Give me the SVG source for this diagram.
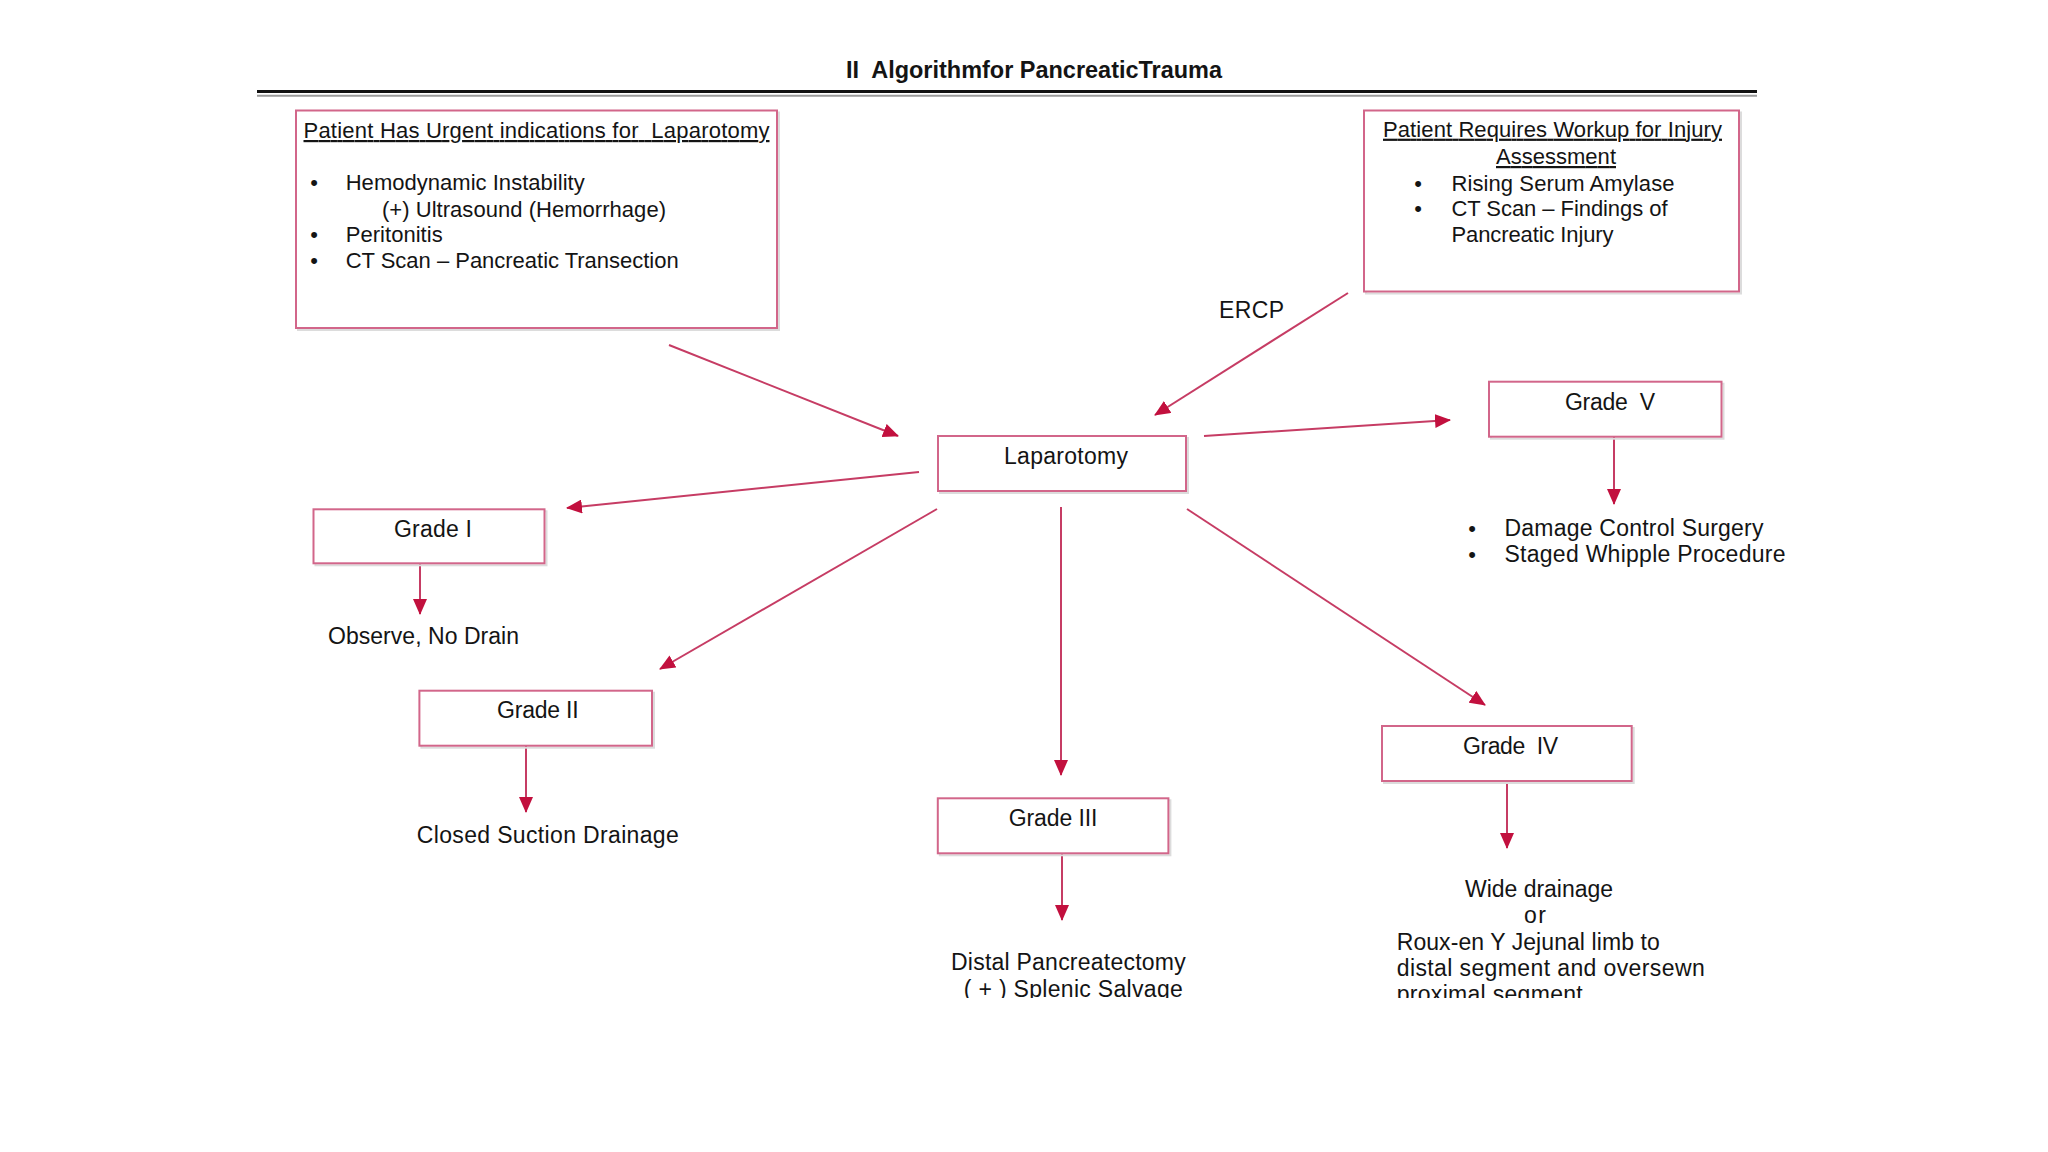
<svg xmlns="http://www.w3.org/2000/svg" width="2048" height="1152" viewBox="0 0 2048 1152">
<style>
text{font-family:"Liberation Sans",Arial,sans-serif;font-size:22px;fill:#141414}
.t{font-size:23px}
.title{font-size:23px;font-weight:bold}
.box{fill:#fff;stroke:#d2668a;stroke-width:2}
.sh{fill:none;stroke:#dcdcdc;stroke-width:2}
.con{stroke:#c63c64;stroke-width:2;fill:none;marker-end:url(#ah)}
.u{text-decoration:underline}
.pre{white-space:pre}
</style>
<defs>
<marker id="ah" markerUnits="userSpaceOnUse" markerWidth="16" markerHeight="14" refX="15" refY="7" orient="auto" viewBox="0 0 16 14">
<path d="M0,0 L16,7 L0,14 z" fill="#c2103e"/>
</marker>
<clipPath id="cut"><rect x="0" y="0" width="2048" height="998"/></clipPath>
</defs>
<rect width="2048" height="1152" fill="#fff"/>

<g id="header">
<text class="title pre" xml:space="preserve" x="846" y="78" textLength="376" lengthAdjust="spacingAndGlyphs">II  Algorithmfor PancreaticTrauma</text>
<line x1="257" y1="91.5" x2="1757" y2="91.5" stroke="#111" stroke-width="3"/>
<line x1="257" y1="95.8" x2="1757" y2="95.8" stroke="#9a9a9a" stroke-width="2"/>
</g>

<g id="connectors">
<line class="con" x1="669" y1="345" x2="898" y2="436"/>
<line class="con" x1="1348" y1="293" x2="1155" y2="415"/>
<line class="con" x1="1204" y1="436" x2="1450" y2="420"/>
<line class="con" x1="919" y1="472" x2="567" y2="508"/>
<line class="con" x1="937" y1="509" x2="660" y2="669"/>
<line class="con" x1="1061" y1="507" x2="1061" y2="775"/>
<line class="con" x1="1187" y1="509" x2="1485" y2="705"/>
<line class="con" x1="1614" y1="437" x2="1614" y2="504"/>
<line class="con" x1="420" y1="563" x2="420" y2="614"/>
<line class="con" x1="526" y1="746" x2="526" y2="812"/>
<line class="con" x1="1062" y1="853" x2="1062" y2="920"/>
<line class="con" x1="1507" y1="781" x2="1507" y2="848"/>
<text class="t" x="1219" y="318" textLength="65">ERCP</text>
</g>

<g id="urgent">
<rect class="sh" x="298" y="112.5" width="481" height="217.5"/>
<rect class="box" x="296" y="110.5" width="481" height="217.5"/>
<text class="u pre" xml:space="preserve" x="303.5" y="138" textLength="466">Patient Has Urgent indications for  Laparotomy</text>
<text x="314" y="190" text-anchor="middle">•</text>
<text x="345.7" y="190" textLength="239">Hemodynamic Instability</text>
<text x="382" y="216.7" textLength="284">(+) Ultrasound (Hemorrhage)</text>
<text x="314" y="241.7" text-anchor="middle">•</text>
<text x="345.7" y="241.7" textLength="97">Peritonitis</text>
<text x="314" y="268" text-anchor="middle">•</text>
<text x="345.7" y="268" textLength="333">CT Scan – Pancreatic Transection</text>
</g>

<g id="workup">
<rect class="sh" x="1366" y="112.5" width="375" height="181"/>
<rect class="box" x="1364" y="110.5" width="375" height="181"/>
<text class="u" x="1383" y="136.7" textLength="339">Patient Requires Workup for Injury</text>
<text class="u" x="1496" y="164" textLength="120">Assessment</text>
<text x="1418" y="190.7" text-anchor="middle">•</text>
<text x="1451.5" y="190.7" textLength="223">Rising Serum Amylase</text>
<text x="1418" y="215.7" text-anchor="middle">•</text>
<text x="1451.5" y="215.7" textLength="216">CT Scan – Findings of</text>
<text x="1451.5" y="241.7" textLength="162">Pancreatic Injury</text>
</g>

<g id="laparotomy">
<rect class="sh" x="940" y="438" width="248" height="55"/>
<rect class="box" x="938" y="436" width="248" height="55"/>
<text class="t" x="1004" y="464" textLength="124">Laparotomy</text>
</g>

<g id="grade5">
<rect class="sh" x="1491" y="383.7" width="232.5" height="55"/>
<rect class="box" x="1489" y="381.7" width="232.5" height="55"/>
<text class="t pre" xml:space="preserve" x="1565" y="410" textLength="90">Grade  V</text>
<text x="1472" y="535.7" text-anchor="middle">•</text>
<text class="t" x="1504.5" y="535.7" textLength="259">Damage Control Surgery</text>
<text x="1472" y="561.7" text-anchor="middle">•</text>
<text class="t" x="1504.5" y="561.7" textLength="281">Staged Whipple Procedure</text>
</g>

<g id="grade1">
<rect class="sh" x="315.5" y="511.3" width="231" height="54"/>
<rect class="box" x="313.5" y="509.3" width="231" height="54"/>
<text class="t" x="394" y="536.7" textLength="78">Grade I</text>
<text class="t" x="328" y="644" textLength="191">Observe, No Drain</text>
</g>

<g id="grade2">
<rect class="sh" x="421.4" y="692.7" width="232.6" height="55"/>
<rect class="box" x="419.4" y="690.7" width="232.6" height="55"/>
<text class="t" x="497" y="718.3" textLength="81.6">Grade II</text>
<text class="t" x="416.8" y="843.3" textLength="262">Closed Suction Drainage</text>
</g>

<g id="grade3">
<rect class="sh" x="939.8" y="800.3" width="230.6" height="55"/>
<rect class="box" x="937.8" y="798.3" width="230.6" height="55"/>
<text class="t" x="1008.7" y="826" textLength="88.7">Grade III</text>
<g clip-path="url(#cut)">
<text class="t" x="951" y="970" textLength="234.7">Distal Pancreatectomy</text>
<text class="t" x="963.8" y="996.7" textLength="219">( + ) Splenic Salvage</text>
</g>
</g>

<g id="grade4">
<rect class="sh" x="1384" y="728" width="249.7" height="55"/>
<rect class="box" x="1382" y="726" width="249.7" height="55"/>
<text class="t pre" xml:space="preserve" x="1463" y="754" textLength="95">Grade  IV</text>
<g clip-path="url(#cut)">
<text class="t" x="1465" y="897" textLength="148">Wide drainage</text>
<text class="t" x="1524" y="923" textLength="22">or</text>
<text class="t" x="1396.7" y="950" textLength="263">Roux-en Y Jejunal limb to</text>
<text class="t" x="1396.7" y="976" textLength="308">distal segment and oversewn</text>
<text class="t" x="1396.7" y="1002" textLength="186">proximal segment</text>
</g>
</g>
</svg>
